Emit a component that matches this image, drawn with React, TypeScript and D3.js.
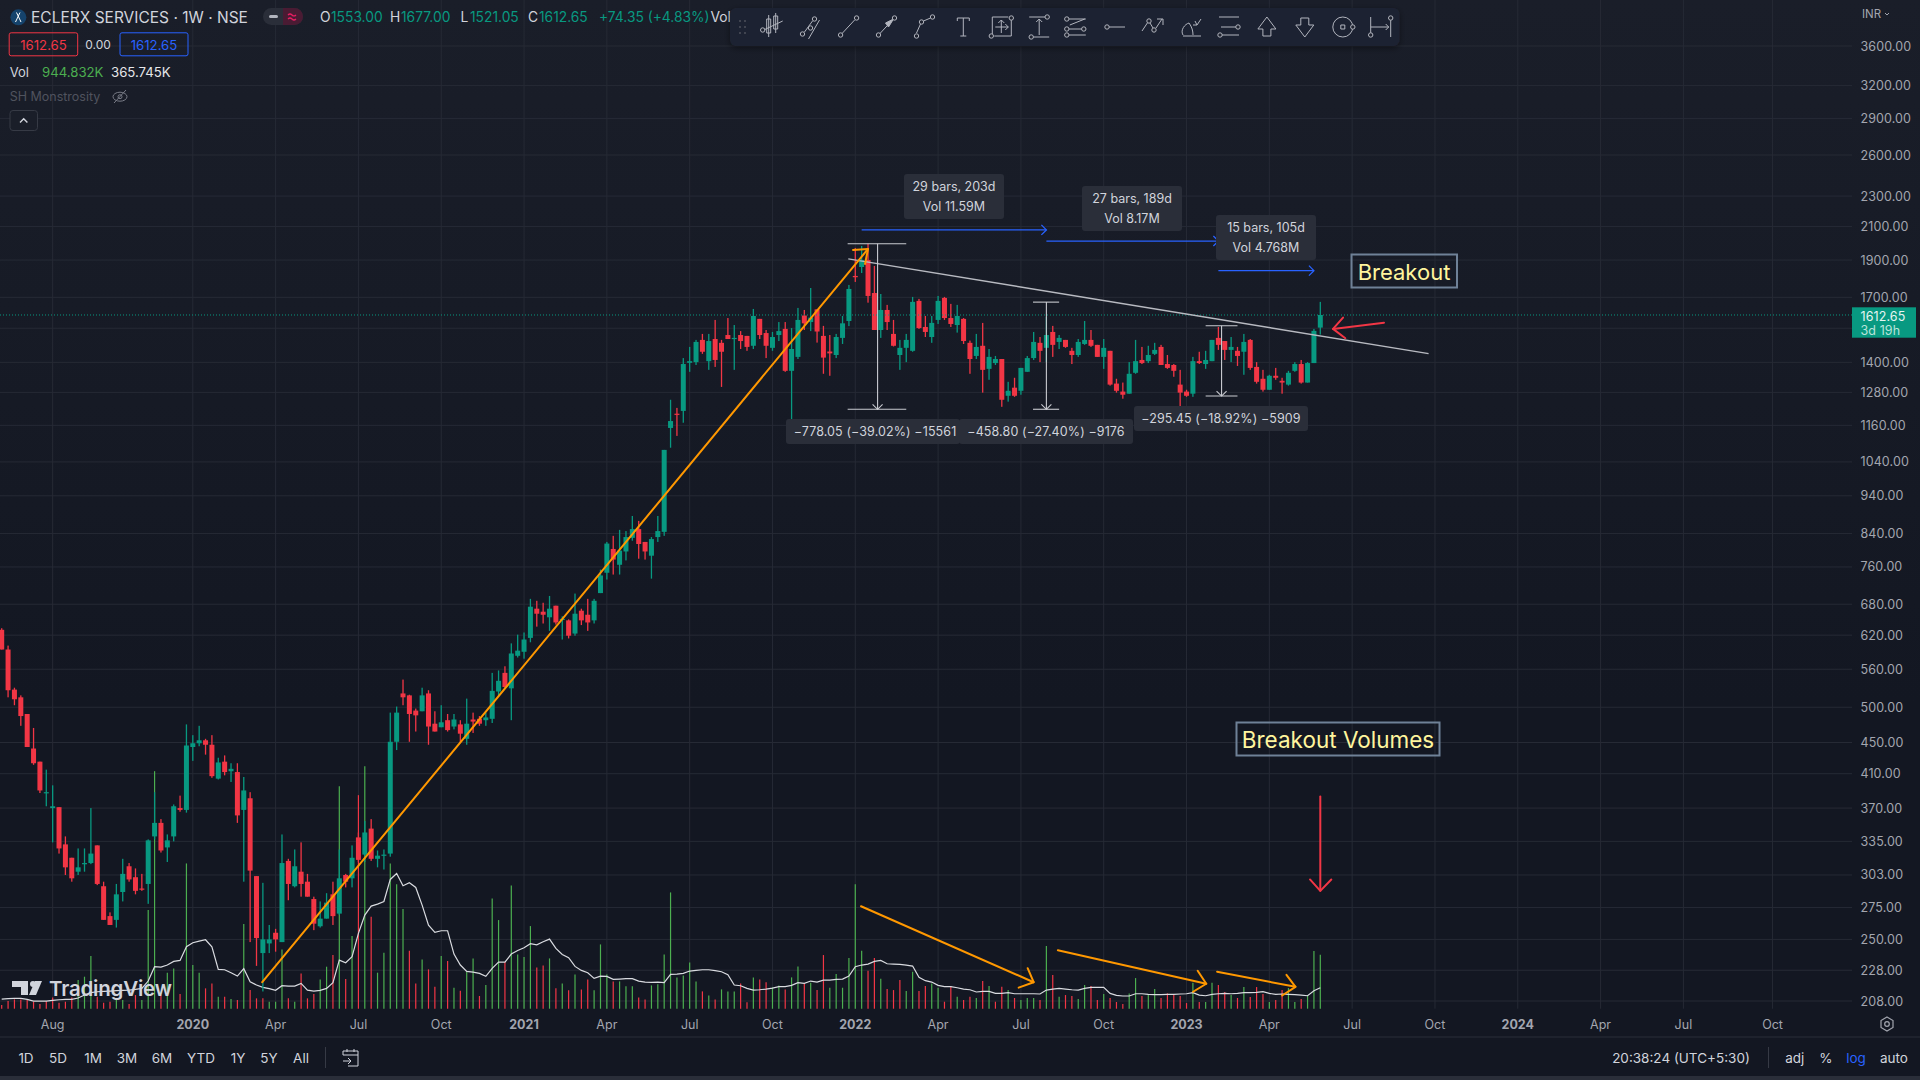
import * as d3 from "d3";

// weekly OHLC, one row of ten bars per line
const opens = [
  630,594,527,515,490,442,425,388,370,371,
  332,319,306,313,314,331,293,268,265,288,
  311,301,291,295,340,354,329,340,370,368,
  444,449,453,447,404,425,413,412,368,381,
  302,240,247,255,248,316,293,306,297,282,
  260,266,286,270,303,300,339,322,348,318,
  321,323,451,521,518,495,494,521,476,471,
  481,472,475,455,482,483,481,483,524,554,
  529,583,590,615,671,665,654,677,650,648,
  623,667,659,648,703,747,802,765,796,829,
  851,819,786,831,844,1151,1201,1211,1398,1401,
  1497,1405,1501,1484,1519,1503,1519,1515,1471,1594,
  1528,1462,1519,1547,1365,1423,1610,1579,1640,1515,
  1446,1431,1506,1584,1812,1861,1900,1722,1542,1637,
  1524,1431,1462,1449,1682,1556,1510,1589,1697,1598,
  1565,1594,1484,1427,1471,1373,1397,1414,1267,1298,
  1286,1361,1418,1484,1462,1533,1488,1497,1449,1431,
  1479,1497,1475,1423,1449,1314,1283,1275,1357,1410,
  1405,1436,1466,1393,1389,1310,1283,1275,1405,1393,
  1405,1506,1492,1453,1449,1445,1497,1381,1333,1290,
  1345,1325,1310,1365,1393,1318,1397,1553,
];
const highs = [
  633,601,530,518,490,470,425,415,396,371,
  340,319,328,328,370,331,297,271,295,318,
  314,309,304,337,388,358,342,374,384,475,
  460,473,455,460,430,433,423,423,406,388,
  302,296,261,258,342,318,327,334,304,284,
  280,287,297,327,304,331,344,356,358,326,
  327,492,501,543,519,498,530,526,494,503,
  490,490,481,513,492,487,492,554,558,565,
  605,621,625,691,687,683,697,677,656,650,
  702,671,691,691,754,819,834,849,846,885,
  872,819,831,885,1078,1252,1222,1418,1466,1497,
  1524,1524,1589,1497,1598,1565,1537,1515,1642,1594,
  1542,1533,1579,1579,1551,1647,1637,1748,1640,1561,
  1519,1524,1608,1764,1970,1982,1995,1867,1717,1662,
  1589,1497,1524,1702,1692,1608,1608,1707,1702,1667,
  1662,1598,1494,1524,1575,1457,1427,1414,1321,1337,
  1377,1427,1533,1510,1603,1561,1519,1497,1462,1501,
  1584,1542,1475,1501,1449,1333,1318,1401,1497,1466,
  1471,1484,1475,1431,1393,1369,1290,1423,1445,1449,
  1497,1556,1492,1510,1466,1524,1501,1401,1369,1349,
  1377,1337,1365,1401,1410,1401,1547,1677,
];
const lows = [
  594,515,503,473,444,421,387,372,334,323,
  303,297,303,306,313,294,265,261,259,280,
  297,286,289,278,337,324,315,335,366,365,
  426,445,434,405,403,408,400,354,297,248,
  231,214,240,241,248,281,292,284,284,257,
  259,266,261,269,292,292,315,315,316,310,
  308,320,440,503,451,465,494,447,465,471,
  465,468,450,447,463,473,473,477,516,530,
  481,580,578,607,636,642,628,640,612,614,
  619,639,628,642,703,732,743,743,775,822,
  779,777,734,819,834,1085,1124,1169,1361,1389,
  1436,1369,1381,1301,1501,1369,1457,1449,1457,1501,
  1418,1449,1492,1361,1176,1414,1542,1537,1485,1353,
  1345,1418,1479,1560,1780,1828,1673,1542,1506,1542,
  1468,1369,1401,1445,1547,1510,1484,1570,1589,1556,
  1530,1479,1353,1414,1279,1329,1389,1226,1245,1263,
  1271,1361,1410,1401,1401,1423,1457,1462,1393,1423,
  1475,1466,1423,1373,1306,1279,1256,1275,1353,1393,
  1397,1431,1389,1373,1341,1226,1263,1263,1393,1373,
  1405,1453,1410,1401,1385,1349,1369,1314,1283,1290,
  1329,1275,1306,1361,1314,1318,1397,1521,
];
const closes = [
  594,526,512,487,444,423,390,388,372,328,
  310,300,310,314,323,295,265,261,286,304,
  299,289,290,336,354,326,336,372,368,446,
  449,453,447,407,424,412,416,362,390,307,
  251,250,250,250,314,295,311,295,284,262,
  266,279,268,300,297,319,317,344,318,321,
  322,451,492,515,490,488,518,472,465,478,
  467,482,462,476,479,476,485,525,541,531,
  587,592,612,675,661,659,671,644,651,619,
  661,648,644,687,741,815,777,798,831,851,
  814,796,826,846,1078,1175,1197,1393,1405,1488,
  1445,1492,1410,1445,1501,1506,1492,1466,1608,1519,
  1471,1510,1537,1365,1457,1589,1573,1600,1535,1420,
  1438,1510,1573,1743,1805,1900,1707,1542,1637,1579,
  1471,1462,1497,1677,1551,1533,1575,1682,1598,1570,
  1608,1492,1414,1466,1369,1423,1414,1252,1286,1267,
  1377,1418,1488,1449,1519,1475,1506,1466,1431,1488,
  1497,1471,1423,1462,1310,1286,1271,1353,1405,1397,
  1431,1453,1389,1377,1365,1279,1267,1405,1397,1410,
  1497,1475,1453,1466,1427,1488,1377,1321,1290,1345,
  1337,1318,1357,1393,1318,1397,1538,1612.65,
];
// thousands of shares
const volumes = [
  64,134,163,163,152,122,82,134,198,105,
  122,198,501,560,921,210,105,122,152,152,
  82,239,152,1726,4157,239,630,705,257,2542,
  764,630,356,443,210,210,169,152,1481,326,
  181,181,122,122,1038,181,122,618,181,257,
  513,735,939,3894,519,1271,3737,4244,1609,630,
  979,2542,2180,1743,1014,443,863,688,385,921,
  834,367,315,647,880,222,414,1930,1551,816,
  2157,950,904,1446,723,758,880,356,443,321,
  600,338,513,321,1125,600,478,478,391,391,
  198,163,408,426,950,2035,548,583,810,478,
  303,233,163,338,303,303,443,111,548,513,
  461,373,408,338,548,740,443,455,326,939,
  367,606,367,886,2180,1014,665,886,525,344,
  326,501,309,647,309,396,443,367,122,396,
  210,152,210,187,484,396,122,385,326,187,
  152,187,187,152,1096,589,210,239,222,169,
  414,396,152,257,187,117,82,268,536,222,
  239,344,187,268,239,222,99,455,117,117,
  455,414,292,239,187,379,204,379,257,117,
  152,326,361,117,169,239,1009,945,
];
const volumeMa = [
  169,175,181,181,163,134,134,134,146,157,
  163,163,187,239,280,297,303,309,315,321,
  326,338,356,484,735,729,764,828,845,1084,
  1154,1183,1207,1084,688,682,630,571,700,472,
  414,373,350,321,402,396,396,443,326,309,
  321,356,455,851,805,909,1318,1638,1796,1831,
  1877,2262,2367,2151,2204,2122,1813,1463,1335,1364,
  1364,956,764,653,641,618,566,705,816,816,
  956,1020,1067,1137,1119,1172,1218,1055,950,892,
  740,670,630,531,571,565,513,519,525,525,
  484,466,461,466,455,600,606,618,659,670,
  682,682,665,647,595,414,402,356,326,332,
  344,361,385,385,408,455,443,484,466,501,
  501,513,519,571,735,764,781,828,845,787,
  781,775,764,746,548,490,466,408,385,385,
  367,344,332,292,303,303,268,268,280,262,
  262,262,262,257,326,344,356,344,332,326,
  356,373,373,373,268,233,222,222,262,262,
  251,245,245,251,251,257,262,280,239,227,
  251,262,268,262,268,280,280,286,297,268,
  251,257,251,245,239,227,315,366,
];

const priceTicks = [3600,3200,2900,2600,2300,2100,1900,1700,1400,1280,1160,1040,940,840,760,680,620,560,500,450,410,370,335,303,275,250,228,208];
// this gridline has its label hidden behind the last price tag
const hiddenPriceTick = 1550;
const timeTickBars = [8,30,43,56,69,82,95,108,121,134,147,160,173,186,199,212,225,238,251,264,278];
const timeTickLabels = ["Aug","2020","Apr","Jul","Oct","2021","Apr","Jul","Oct","2022","Apr","Jul","Oct","2023","Apr","Jul","Oct","2024","Apr","Jul","Oct"];
const rangeButtons = ["1D","5D","1M","3M","6M","YTD","1Y","5Y","All"];
const rangeButtonX = [26,58,93,127,162,201,238,269,301];

// drawings, anchored as [bar index, price]; barbs are pixel offsets from the tip
const trendFrom = [132.9, 1907];
const trendTo = [224, 1437];
const orangeArrows = [
  { from: [40.9, 220], to: [136, 1964], barbs: [[-15, 1], [-3, 15]] },
  { from: [134.9, 276], to: [162, 220], barbs: [[-6, -14], [-15, 5.4]] },
  { from: [165.8, 242], to: [189.1, 219], barbs: [[-8.6, -13], [-13.2, 8]] },
  { from: [190.8, 227], to: [203.1, 217], barbs: [[-9, -12], [-13.3, 8.7]] },
];
const redArrows = [
  { from: [217, 1576], to: [209, 1547], barbs: [[10, -11.3], [12.3, 9.3]] },
  { from: [207, 383], to: [207, 289], barbs: [[-10.3, -11.4], [11, -11.4]] },
];
const blueArrows = [
  { from: [135, 2079], to: [164, 2079] },
  { from: [164, 2011], to: [191, 2011] },
  { from: [191, 1841], to: [206, 1841] },
];
const priceRanges = [
  { left: 132.8, mid: 137.5, right: 142, top: 1995, bottom: 1217 },
  { left: 161.9, mid: 164, right: 166, top: 1675.8, bottom: 1217 },
  { left: 189, mid: 191.5, right: 194, top: 1561.6, bottom: 1266.1 },
];
const rangeLabels = [
  { x: 873, tx: 875, y: 431.5, w: 174, text: "\u2212778.05 (\u221239.02%) \u221215561" },
  { x: 1046, tx: 1046, y: 431.5, w: 174, text: "\u2212458.80 (\u221227.40%) \u22129176" },
  { x: 1221, tx: 1221, y: 418.5, w: 174, text: "\u2212295.45 (\u221218.92%) \u22125909" },
];
const barLabels = [
  { x: 954, y: 174, lines: ["29 bars, 203d", "Vol 11.59M"] },
  { x: 1132, y: 186, lines: ["27 bars, 189d", "Vol 8.17M"] },
  { x: 1266, y: 215, lines: ["15 bars, 105d", "Vol 4.768M"] },
];

const GREEN = "#089981";
const RED = "#f23645";
const VOL_GREEN = "#4caf50";
const BLUE = "#2962ff";
const ORANGE = "#ff9800";
const GRID = "#262a35";
const AXIS_TEXT = "#a3a6af";
const FONT = "Inter, 'Noto Sans', sans-serif";

const x = d3.scaleLinear().domain([0, 207]).range([1.7, 1320.3]);
const y = d3.scaleLog().domain([3600, 208]).range([46, 1001]);
const yVol = d3.scaleLinear().domain([0, 2187.5]).range([1008.7, 883.7]);

const maLine = d3
  .line<number>()
  .x((_, i) => x(i))
  .y((d) => yVol(d));

const CHART_RIGHT = 1852;
const CHART_BOTTOM = 1008.7;

function Arrow({ a, color, width }: { a: { from: number[]; to: number[]; barbs: number[][] }; color: string; width: number }) {
  const tx = x(a.to[0]);
  const ty = y(a.to[1]);
  return (
    <g stroke={color} strokeWidth={width} fill="none" strokeLinecap="round" strokeLinejoin="round">
      <line x1={x(a.from[0])} y1={y(a.from[1])} x2={tx} y2={ty} />
      <path d={`M${tx + a.barbs[0][0]} ${ty + a.barbs[0][1]}L${tx} ${ty}L${tx + a.barbs[1][0]} ${ty + a.barbs[1][1]}`} />
    </g>
  );
}

// toolbar glyphs, drawn around the button centre
const toolIcons: { d: string; dots?: number[][]; fill?: string }[] = [
  { d: "M-4-12V10M3-14V6M-6-8h4v14h-4zM1-11h4v13h-4zM-9 3L10-6", dots: [[-10, 3]] },
  { d: "M-7 5L1-6M-3 12L8-7", dots: [[-9, 7], [3, -8], [-1, 1]] },
  { d: "M-7 7L6-7", dots: [[-8, 8], [8, -9]] },
  { d: "M-7 7L6-7", dots: [[-8, 8], [8, -9]], fill: "M7-8L-1-4L2 0Z" },
  { d: "M-8 6L-4-3M-1-6L6-9", dots: [[-8, 9], [-3, -5], [8, -10]] },
  { d: "M-6-9H6M-6-9V-6M6-9V-6M0-9V9M-3 9H3" },
  { d: "M-9-10H7M10-7V9H-7M-9-10V7M0-7V6M-6 0H7M-3-4L0-7L3-4M4-3L7 0L4 3", dots: [[-10, 9], [10, -9]] },
  { d: "M-10-10H6M-6 10H10M0 8V-8M-3-5L0-8L3-5", dots: [[8, -10], [-8, 10]] },
  { d: "M-7-8H10M-7 2H6M-7 8H10M-6-2L9-8", dots: [[-9, -8], [-9, 2], [-9, 8], [8, 2]] },
  { d: "M-6 0H10", dots: [[-8, 0]] },
  { d: "M-11 4L-5-5M-3-4L0 1M3 1L9-8M4-8H10V-2", dots: [[-4, -6], [1, 3]] },
  { d: "M-8 9H10M-8 8C-11 3-6-3-2-4C1 0 2 4 2 8M2-2L6-2L10-8M4-6L6-2" },
  { d: "M-10-10H10M-8-0H7M-7 8H10", dots: [[9, 0], [-9, 8]] },
  { d: "M0-10L9 2H4V9H-4V2H-9Z" },
  { d: "M0 10L9-2H4V-9H-4V-2H-9Z" },
  { d: "M0-10A10 10 0 1 0 0 10A10 10 0 1 0 0-10M-2-2h4v4h-4z", dots: [[10, 0]] },
  { d: "M-10-10V10M10-10V10M-10 0H8M5-3L8 0L5 3", dots: [[-10, 8], [10, -9]] },
];
const toolIconX = [772.7,811.5,848.6,886.5,924.5,963.3,1001.3,1039.2,1075.8,1115,1153,1191,1229,1266.9,1304.8,1342.8,1380.7];

export default function App() {
  return (
    <svg width={1920} height={1080} style={{ position: "absolute", left: 0, top: 0, display: "block" }} fontFamily={FONT}>
      <defs>
        <linearGradient id="bg" x1="0" y1="0" x2="0" y2="1">
          <stop offset="0" stopColor="#1a1e29" />
          <stop offset="0.65" stopColor="#131722" />
        </linearGradient>
        <filter id="toolShadow" x="-5%" y="-40%" width="110%" height="190%">
          <feDropShadow dx={0} dy={2} stdDeviation={3} floodColor="#000" floodOpacity={0.45} />
        </filter>
      </defs>
      <rect width={1920} height={1080} fill="url(#bg)" />

      {/* grid */}
      {[...priceTicks, hiddenPriceTick].map((p) => (
        <line key={p} x1={0} x2={CHART_RIGHT} y1={y(p)} y2={y(p)} stroke={GRID} strokeWidth={1} />
      ))}
      {timeTickBars.map((b) => (
        <line key={b} x1={x(b)} x2={x(b)} y1={0} y2={CHART_BOTTOM} stroke={GRID} strokeWidth={1} />
      ))}

      {/* volume */}
      {volumes.map((v, i) => (
        <line
          key={i}
          x1={x(i)}
          x2={x(i)}
          y1={yVol(0)}
          y2={yVol(v)}
          stroke={i === 0 || closes[i] < closes[i - 1] ? RED : VOL_GREEN}
          strokeWidth={1.2}
        />
      ))}
      <path d={maLine(volumeMa) ?? ""} fill="none" stroke="#d9dbe0" strokeWidth={1.2} />

      {/* candles */}
      {closes.map((c, i) => {
        const up = c >= opens[i];
        const color = up ? GREEN : RED;
        const top = y(Math.max(c, opens[i]));
        const h = Math.max(1.2, y(Math.min(c, opens[i])) - top);
        return (
          <g key={i} fill={color}>
            <rect x={x(i) - 0.65} width={1.3} y={y(highs[i])} height={y(lows[i]) - y(highs[i])} />
            <rect x={x(i) - 2.5} width={5} y={top} height={h} />
          </g>
        );
      })}

      {/* last price */}
      <line x1={0} x2={CHART_RIGHT} y1={y(1612.65)} y2={y(1612.65)} stroke={GREEN} strokeWidth={1} strokeDasharray="1 2" />

      {/* drawings */}
      <line x1={x(trendFrom[0])} y1={y(trendFrom[1])} x2={x(trendTo[0])} y2={y(trendTo[1])} stroke="#b8bac1" strokeWidth={1.4} />
      {orangeArrows.map((a, i) => (
        <Arrow key={i} a={a} color={ORANGE} width={2} />
      ))}
      {redArrows.map((a, i) => (
        <Arrow key={i} a={a} color={RED} width={2} />
      ))}
      {blueArrows.map((a, i) => {
        const tx = x(a.to[0]);
        const ty = y(a.to[1]);
        return (
          <g key={i} stroke={BLUE} strokeWidth={1.3} fill="none">
            <line x1={x(a.from[0])} y1={ty} x2={tx} y2={ty} />
            <path d={`M${tx - 5} ${ty - 5}L${tx} ${ty}L${tx - 5} ${ty + 5}`} />
          </g>
        );
      })}
      {priceRanges.map((r, i) => {
        const xm = x(r.mid);
        const yb = y(r.bottom);
        return (
          <g key={i} stroke="#c9cbd1" strokeWidth={1.1} fill="none">
            <line x1={x(r.left)} x2={x(r.right)} y1={y(r.top)} y2={y(r.top)} />
            <line x1={x(r.left)} x2={x(r.right)} y1={yb} y2={yb} />
            <line x1={xm} x2={xm} y1={y(r.top)} y2={yb} />
            <path d={`M${xm - 5} ${yb - 5}L${xm} ${yb}L${xm + 5} ${yb - 5}`} />
          </g>
        );
      })}
      {rangeLabels.map((l, i) => (
        <g key={i}>
          <rect x={l.x - l.w / 2} y={l.y - 12.5} width={l.w} height={25} rx={3} fill="#2a2e39" />
          <text x={l.tx} y={l.y} fontSize={12.5} fill="#d1d4dc" textAnchor="middle" dominantBaseline="central" letterSpacing={0.1}>
            {l.text}
          </text>
        </g>
      ))}
      {barLabels.map((l, i) => (
        <g key={i}>
          <rect x={l.x - 50} y={l.y} width={100} height={45} rx={3} fill="#2a2e39" />
          <text x={l.x} y={l.y + 12.7} fontSize={12.5} fill="#d1d4dc" textAnchor="middle" dominantBaseline="central">
            {l.lines[0]}
          </text>
          <text x={l.x} y={l.y + 32.7} fontSize={12.5} fill="#d1d4dc" textAnchor="middle" dominantBaseline="central">
            {l.lines[1]}
          </text>
        </g>
      ))}
      <rect x={1351.5} y={254.5} width={105.5} height={33} fill="none" stroke="#6f8197" strokeWidth={2} />
      <text x={1404} y={271.5} fontSize={22} fill="#fff59d" textAnchor="middle" dominantBaseline="central">
        Breakout
      </text>
      <rect x={1236.5} y={722.5} width={203} height={33} fill="none" stroke="#6f8197" strokeWidth={2} />
      <text x={1338} y={739.5} fontSize={22.5} fill="#fff59d" textAnchor="middle" dominantBaseline="central">
        Breakout Volumes
      </text>

      {/* TradingView mark */}
      <g fill="#d1d4dc">
        <path d="M12 981H28V995H21V987H12Z" />
        <circle cx={33} cy={984} r={3} />
        <path d="M35 981H42L36 995H29Z" />
        <text x={49} y={996} fontSize={20.5} fontWeight={600} letterSpacing={-0.2}>
          TradingView
        </text>
      </g>

      {/* price axis */}
      <text x={1862} y={14} fontSize={11.5} fill={AXIS_TEXT} dominantBaseline="central">
        INR
      </text>
      <path d="M1885 13l2 2l2-2" fill="none" stroke={AXIS_TEXT} strokeWidth={1} />
      {priceTicks.map((p) => (
        <text key={p} x={1860.5} y={y(p)} fontSize={12.5} fill={AXIS_TEXT} dominantBaseline="central" letterSpacing={0.1}>
          {p.toFixed(2)}
        </text>
      ))}
      <rect x={CHART_RIGHT} y={307.3} width={64} height={30.4} fill={GREEN} />
      <text x={1860.5} y={316} fontSize={12.5} fill="#e6f5f2" dominantBaseline="central" letterSpacing={0.1}>
        1612.65
      </text>
      <text x={1860.5} y={330} fontSize={12.5} fill="#b9e3db" dominantBaseline="central" letterSpacing={0.1}>
        3d 19h
      </text>

      {/* time axis */}
      {timeTickBars.map((b, i) => {
        const isYear = /^\d/.test(timeTickLabels[i]);
        return (
          <text
            key={b}
            x={x(b)}
            y={1024}
            fontSize={12.5}
            fontWeight={isYear ? 700 : 400}
            fill={AXIS_TEXT}
            textAnchor="middle"
            dominantBaseline="central"
          >
            {timeTickLabels[i]}
          </text>
        );
      })}
      <g fill="none" stroke={AXIS_TEXT} strokeWidth={1.2}>
        <path d="M1887 1017L1893 1020.5V1027.5L1887 1031L1881 1027.5V1020.5Z" />
        <circle cx={1887} cy={1024} r={2.3} />
      </g>

      {/* bottom bar */}
      <rect x={0} y={1037} width={1920} height={43} fill="#131722" />
      <line x1={0} x2={1920} y1={1037} y2={1037} stroke="#2a2e39" strokeWidth={1} />
      <rect x={0} y={1076} width={1920} height={4} fill="#2a2e39" />
      {rangeButtons.map((b, i) => (
        <text key={b} x={rangeButtonX[i]} y={1058} fontSize={13.5} fill="#d1d4dc" textAnchor="middle" dominantBaseline="central">
          {b}
        </text>
      ))}
      <line x1={325.5} x2={325.5} y1={1047} y2={1068} stroke="#363a45" />
      <g fill="none" stroke="#d1d4dc" strokeWidth={1}>
        <path d="M343 1055V1051H358V1066H348M343 1055H358M347 1049V1052M354 1049V1052M343 1061H351M348 1058L351 1061L348 1064" />
      </g>
      <text x={1681} y={1058} fontSize={13.5} fill="#d1d4dc" textAnchor="middle" dominantBaseline="central">
        20:38:24 (UTC+5:30)
      </text>
      <line x1={1768.5} x2={1768.5} y1={1047} y2={1068} stroke="#363a45" />
      <text x={1794.7} y={1058} fontSize={13.5} fill="#d1d4dc" textAnchor="middle" dominantBaseline="central">adj</text>
      <text x={1826} y={1058} fontSize={13.5} fill="#d1d4dc" textAnchor="middle" dominantBaseline="central">%</text>
      <text x={1856} y={1058} fontSize={13.5} fill={BLUE} textAnchor="middle" dominantBaseline="central">log</text>
      <text x={1894} y={1058} fontSize={13.5} fill="#d1d4dc" textAnchor="middle" dominantBaseline="central">auto</text>

      {/* legend */}
      <circle cx={18.4} cy={17.3} r={8} fill="#15436c" />
      <path d="M15.5 22L20 12.5M16.5 12.5L21 22" stroke="#fff" strokeWidth={1} fill="none" />
      <text x={31} y={17} fontSize={15.5} fill="#d1d4dc" dominantBaseline="central">
        ECLERX SERVICES · 1W · NSE
      </text>
      <rect x={263} y={8} width={40} height={17} rx={8.5} fill="#2a2e39" />
      <path d="M283 8H294.5A8.5 8.5 0 0 1 294.5 25H283Z" fill="#4a1b33" />
      <rect x={269} y={15} width={9} height={3} rx={1.5} fill="#b2b5be" />
      <path d="M288 15q2-2 4 0t4 0M288 19q2-2 4 0t4 0" stroke="#e91e63" strokeWidth={1.2} fill="none" />
      <g fontSize={13.8} dominantBaseline="central">
        <text x={320} y={17} fill="#d1d4dc">O</text>
        <text x={331} y={17} fill={GREEN}>1553.00</text>
        <text x={390} y={17} fill="#d1d4dc">H</text>
        <text x={401} y={17} fill={GREEN}>1677.00</text>
        <text x={460.5} y={17} fill="#d1d4dc">L</text>
        <text x={470} y={17} fill={GREEN}>1521.05</text>
        <text x={528} y={17} fill="#d1d4dc">C</text>
        <text x={539} y={17} fill={GREEN}>1612.65</text>
        <text x={599} y={17} fill={GREEN}>+74.35 (+4.83%)</text>
        <text x={710.5} y={17} fill="#d1d4dc">Vol</text>
      </g>
      <rect x={9.2} y={32.8} width={68.5} height={23} rx={2} fill="none" stroke={RED} />
      <text x={43.5} y={44.5} fontSize={13.2} fill={RED} textAnchor="middle" dominantBaseline="central">1612.65</text>
      <text x={98} y={44.5} fontSize={12} fill="#d1d4dc" textAnchor="middle" dominantBaseline="central">0.00</text>
      <rect x={120} y={32.8} width={68} height={23} rx={2} fill="none" stroke={BLUE} />
      <text x={154} y={44.5} fontSize={13.2} fill={BLUE} textAnchor="middle" dominantBaseline="central">1612.65</text>
      <text x={9.7} y={72.3} fontSize={13} fill="#d1d4dc" dominantBaseline="central">Vol</text>
      <text x={42} y={72.3} fontSize={13.2} fill={VOL_GREEN} dominantBaseline="central">944.832K</text>
      <text x={111} y={72.3} fontSize={13.2} fill="#e6e7ea" dominantBaseline="central">365.745K</text>
      <text x={9.7} y={96.7} fontSize={12.5} fill="#50535e" dominantBaseline="central">SH Monstrosity</text>
      <g fill="none" stroke="#787b86" strokeWidth={1}>
        <ellipse cx={120} cy={96.7} rx={7} ry={4.5} />
        <circle cx={120} cy={96.7} r={2} />
        <path d="M114 103L126 90" />
      </g>
      <rect x={10} y={110.5} width={27.5} height={20} rx={3} fill="#1a1e29" stroke="#363a45" />
      <path d="M20 122.5l3.7-3.7l3.7 3.7" fill="none" stroke="#d1d4dc" strokeWidth={1.4} />

      {/* drawing toolbar */}
      <rect x={730} y={8} width={669.5} height={38} rx={6} fill="#1f2330" filter="url(#toolShadow)" />
      <g fill="#4c505b">
        {[19, 25, 31].map((dy) => (
          <g key={dy}>
            <circle cx={740} cy={dy + 2} r={1} />
            <circle cx={745} cy={dy + 2} r={1} />
          </g>
        ))}
      </g>
      {toolIcons.map((ic, i) => (
        <g key={i} transform={`translate(${toolIconX[i]},27)`} fill="none" stroke="#b2b5be" strokeWidth={1}>
          <path d={ic.d} />
          {ic.fill && <path d={ic.fill} fill="#b2b5be" />}
          {ic.dots?.map((dt, j) => (
            <circle key={j} cx={dt[0]} cy={dt[1]} r={2.2} fill="#1f2330" />
          ))}
        </g>
      ))}
    </svg>
  );
}
